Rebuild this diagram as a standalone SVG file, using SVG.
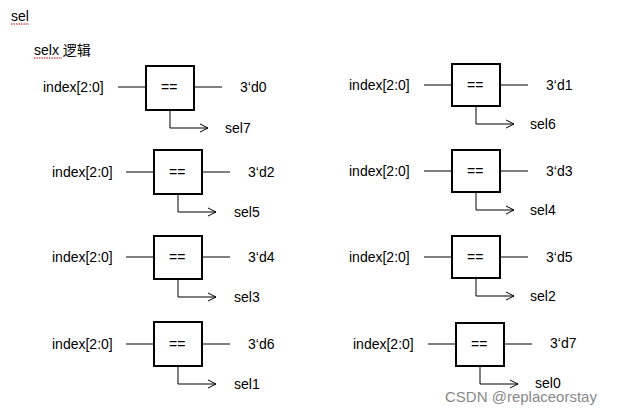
<svg xmlns="http://www.w3.org/2000/svg" width="642" height="412" viewBox="0 0 642 412">
<style>
text{font-family:"Liberation Sans","Noto Sans CJK SC",sans-serif;font-size:14px;fill:#000}
.b{fill:#fff;stroke:#000;stroke-width:2}
.l{stroke:#000;stroke-width:1;fill:none}
.w{fill:#888;font-size:15px}
.u{stroke:#c00;stroke-width:1;fill:none;stroke-dasharray:1.5 1}
</style>
<defs><marker id="a" markerWidth="10" markerHeight="10" refX="9" refY="5" orient="auto" markerUnits="userSpaceOnUse"><path d="M1,1 L9,5 L1,9" fill="none" stroke="#000"/></marker></defs>
<rect width="642" height="412" fill="#fff"/>
<text x="11" y="21">sel</text>
<path class="u" d="M11,24 H29"/>
<text x="34" y="55">selx 逻辑</text>
<path class="u" d="M34,58 H62"/>
<g id="connectors">
<path class="l" d="M118,87H146M194,87H222M170,110V128H208" marker-end="url(#a)"/>
<path class="l" d="M424,85H452M500,85H528M476,106V124H514" marker-end="url(#a)"/>
<path class="l" d="M126,172H154M202,172H230M178,194V212H216" marker-end="url(#a)"/>
<path class="l" d="M424,171H452M500,171H528M476,192V210H514" marker-end="url(#a)"/>
<path class="l" d="M126,257H154M202,257H230M178,279V297H216" marker-end="url(#a)"/>
<path class="l" d="M424,257H452M500,257H528M476,278V296H514" marker-end="url(#a)"/>
<path class="l" d="M126,344H154M202,344H230M178,366V384H216" marker-end="url(#a)"/>
<path class="l" d="M428,344H456M504,344H532M480,366V384H518" marker-end="url(#a)"/>
</g>
<g id="n0"><text x="43" y="92">index[2:0]</text><rect class="b" x="146" y="66" width="48" height="44"/><text x="161" y="92">==</text><text x="240" y="92">3‘d0</text><text x="225" y="133">sel7</text></g>
<g id="n1"><text x="349" y="90">index[2:0]</text><rect class="b" x="452" y="64" width="48" height="42"/><text x="467" y="90">==</text><text x="546" y="90">3‘d1</text><text x="530" y="129">sel6</text></g>
<g id="n2"><text x="52" y="177">index[2:0]</text><rect class="b" x="154" y="150" width="48" height="44"/><text x="169" y="177">==</text><text x="248" y="177">3‘d2</text><text x="234" y="217">sel5</text></g>
<g id="n3"><text x="349" y="176">index[2:0]</text><rect class="b" x="452" y="150" width="48" height="42"/><text x="467" y="176">==</text><text x="546" y="176">3‘d3</text><text x="530" y="215">sel4</text></g>
<g id="n4"><text x="52" y="262">index[2:0]</text><rect class="b" x="154" y="236" width="48" height="43"/><text x="169" y="262">==</text><text x="248" y="262">3‘d4</text><text x="234" y="302">sel3</text></g>
<g id="n5"><text x="349" y="262">index[2:0]</text><rect class="b" x="452" y="236" width="48" height="42"/><text x="467" y="262">==</text><text x="546" y="262">3‘d5</text><text x="530" y="301">sel2</text></g>
<g id="n6"><text x="52" y="349">index[2:0]</text><rect class="b" x="154" y="322" width="48" height="44"/><text x="169" y="349">==</text><text x="248" y="349">3‘d6</text><text x="234" y="389">sel1</text></g>
<g id="n7"><text x="353" y="349">index[2:0]</text><rect class="b" x="456" y="323" width="48" height="43"/><text x="471" y="349">==</text><text x="550" y="348">3‘d7</text><text x="535" y="388">sel0</text></g>
<text class="w" x="445" y="402">CSDN @replaceorstay</text>
</svg>
